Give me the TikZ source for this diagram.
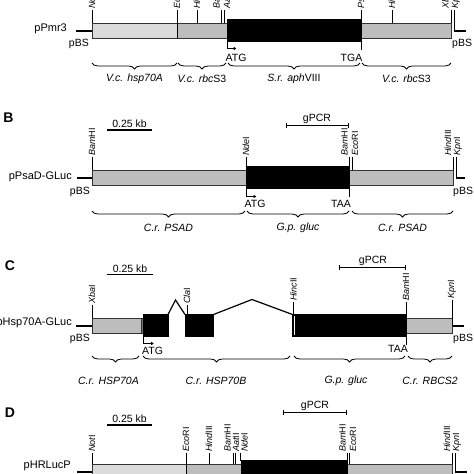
\documentclass[tikz,border=0pt]{standalone}
\usepackage{fontspec}
\setmainfont{Liberation Sans}
\usetikzlibrary{decorations.pathreplacing,arrows.meta}

\definecolor{lightbox}{gray}{0.86}
\definecolor{midbox}{gray}{0.74}
\definecolor{utrbox}{gray}{0.45}

\tikzset{
  site/.style={rotate=90, anchor=west, inner sep=0.4pt, font=\fontsize{9}{9}\selectfont},
  cut/.style={line width=0.8pt},
  gbox/.style={draw=black!80, line width=0.8pt},
  exon/.style={fill=black, draw=black, line width=0.8pt},
  backbone/.style={line width=2pt},
  intron/.style={line width=1.2pt, line join=miter},
  region/.style={inner sep=0pt, font=\fontsize{10.5}{10.5}\selectfont},
  plasmid/.style={anchor=east, inner sep=0pt, font=\fontsize{11}{11}\selectfont},
  seqtext/.style={inner sep=0pt, font=\fontsize{10.5}{10.5}\selectfont},
  panel/.style={inner sep=0pt, font=\fontsize{14}{14}\selectfont\bfseries},
  bracket/.style={decorate, decoration={brace, mirror, amplitude=6pt}, line width=0.8pt},
  scalebar/.style={line width=1.8pt},
  pcr/.style={{Bar[width=5pt]}-{Bar[width=5pt]}, line width=0.8pt},
  atg/.style={-{To[length=2.5pt,width=3pt]}, line width=0.8pt},
}

% restriction site: name, x, tick top, tick bottom, label x, text
\newcommand{\rsite}[6]{%
  \coordinate (#1t) at (#2,#3);
  \coordinate (#1b) at (#2,#4);
  \draw[cut] (#1t) -- (#1b);
  \node[site] (#1) at (#5,#3-0.5) {#6};
}

\begin{document}
\begin{tikzpicture}[x=1pt,y=-1pt]
\useasboundingbox (0,0) rectangle (474,474);
\clip (0,0) rectangle (474,474);

% ---- A: pPmr3
\node[plasmid] (A) at (67,29) {pPmr3};
\node[seqtext, anchor=east] (A_bsl) at (89,43.5) {pBS};
\node[seqtext, anchor=west] (A_bsr) at (452,44) {pBS};
\coordinate (A_l) at (76,30.5); \coordinate (A_l1) at (92,30.5);
\coordinate (A_r) at (466,30.5); \coordinate (A_r1) at (454,30.5);
\draw[backbone] (A_l) -- (A_l1);
\draw[backbone] (A_r1) -- (A_r);
\filldraw[gbox, fill=lightbox] (92,23) rectangle (177,38);
\filldraw[gbox, fill=midbox] (177,23) rectangle (227,38);
\filldraw[gbox, fill=midbox] (361,23) rectangle (451,38);
\filldraw[exon] (227,19.5) rectangle (361,41.5);
\rsite{A_N}{92}{10}{23}{92}{\textit{Not}I}
\rsite{A_E}{177}{10}{38}{177}{\textit{Eco}RI}
\rsite{A_H}{197}{10}{23}{197}{\textit{Hind}III}
\rsite{A_B}{221}{10}{23}{216.5}{\textit{Bam}HI}
\rsite{A_A}{224}{10}{23}{227}{\textit{Aat}II}
\rsite{A_P}{361}{10}{19.5}{361}{\textit{Pst}I}
\rsite{A_H2}{392}{10}{23}{392}{\textit{Hind}III}
\rsite{A_X}{451}{10}{23}{445.5}{\textit{Xba}I}
\rsite{A_K}{454}{10}{30.5}{456}{\textit{Kpn}I}
\coordinate (A_atg) at (227,41.5);
\draw[atg] (A_atg) -- ++(0,7) -- ++(9,0);
\node[seqtext, anchor=west] (A_start) at (225.5,57.5) {ATG};
\coordinate (A_tga) at (361,41.5);
\draw[cut] (A_tga) -- ++(0,8);
\node[seqtext, anchor=east] (A_stop) at (362.5,57.5) {TGA};
\draw[bracket] (92,63) -- (177,63);
\draw[bracket] (178,63) -- (226,63);
\draw[bracket] (228,63) -- (360,63);
\draw[bracket] (362,63) -- (451,63);
\node[region] (A_r1) at (134.5,79) {\textit{V.c. hsp70A}};
\node[region] (A_r2) at (202,79) {\textit{V.c. rbc}S3};
\node[region] (A_r3) at (294,79) {\textit{S.r. aph}VIII};
\node[region] (A_r4) at (406.5,79) {\textit{V.c. rbc}S3};

% ---- B: pPsaD-GLuc
\node[panel] (B) at (8.5,118) {B};
\coordinate (B_s0) at (107,130); \coordinate (B_s1) at (152,130);
\draw[scalebar] (B_s0) -- (B_s1);
\node[seqtext] (B_kb) at (129.5,124) {0.25 kb};
\coordinate (B_p0) at (286,125); \coordinate (B_p1) at (349,125);
\draw[pcr] (B_p0) -- (B_p1);
\node[seqtext] (B_pcr) at (317,118.5) {gPCR};
\node[plasmid] (Bn) at (72,176.5) {pPsaD-GLuc};
\node[seqtext, anchor=east] (B_bsl) at (90,191.5) {pBS};
\node[seqtext, anchor=west] (B_bsr) at (453,191.5) {pBS};
\coordinate (B_l) at (77,177.5); \coordinate (B_l1) at (92,177.5);
\coordinate (B_r) at (465,177.5); \coordinate (B_r1) at (456,177.5);
\draw[backbone] (B_l) -- (B_l1);
\draw[backbone] (B_r1) -- (B_r);
\filldraw[gbox, fill=midbox] (92,170) rectangle (246,185);
\filldraw[gbox, fill=midbox] (349,170) rectangle (453,185);
\filldraw[exon] (246,166.5) rectangle (349,188.5);
\rsite{B_B}{92}{157}{170}{92}{\textit{Bam}HI}
\rsite{B_N}{246}{157}{166.5}{246}{\textit{Nde}I}
\rsite{B_B2}{349}{157}{166.5}{344.5}{\textit{Bam}HI}
\rsite{B_E}{352}{157}{170}{355}{\textit{Eco}RI}
\rsite{B_H}{453}{157}{170}{448}{\textit{Hind}III}
\rsite{B_K}{456}{157}{177.5}{458}{\textit{Kpn}I}
\coordinate (B_atg) at (246,188.5);
\draw[atg] (B_atg) -- ++(0,8) -- ++(10,0);
\node[seqtext, anchor=west] (B_start) at (244.5,204) {ATG};
\coordinate (B_taa) at (349,188.5);
\draw[cut] (B_taa) -- ++(0,8);
\node[seqtext, anchor=east] (B_stop) at (351,204) {TAA};
\draw[bracket] (92,211) -- (245,211);
\draw[bracket] (247,211) -- (349,211);
\draw[bracket] (352,211) -- (453,211);
\node[region] (B_r1) at (168.5,227.5) {\textit{C.r. PSAD}};
\node[region] (B_r2) at (298,227.5) {\textit{G.p. gluc}};
\node[region] (B_r3) at (402.5,227.5) {\textit{C.r. PSAD}};

% ---- C: pHsp70A-GLuc
\node[panel] (C) at (10,266) {C};
\coordinate (C_s0) at (107,274.5); \coordinate (C_s1) at (153,274.5);
\draw[scalebar] (C_s0) -- (C_s1);
\node[seqtext] (C_kb) at (130,268.5) {0.25 kb};
\coordinate (C_p0) at (339,267); \coordinate (C_p1) at (406,267);
\draw[pcr] (C_p0) -- (C_p1);
\node[seqtext] (C_pcr) at (373,260.5) {gPCR};
\node[plasmid] (Cn) at (72,322.5) {pHsp70A-GLuc};
\node[seqtext, anchor=east] (C_bsl) at (90,338.5) {pBS};
\node[seqtext, anchor=west] (C_bsr) at (453,338.5) {pBS};
\coordinate (C_l) at (76,325.5); \coordinate (C_l1) at (92,325.5);
\coordinate (C_r) at (464,325.5); \coordinate (C_r1) at (452,325.5);
\draw[backbone] (C_l) -- (C_l1);
\draw[backbone] (C_r1) -- (C_r);
\filldraw[gbox, fill=midbox] (92,318) rectangle (141,333);
\filldraw[gbox, fill=utrbox] (141,318) rectangle (143.5,333);
\filldraw[gbox, fill=midbox] (406,318) rectangle (452,333);
\filldraw[exon] (143.5,314.5) rectangle (168,336.5);
\filldraw[exon] (185,314.5) rectangle (213.5,336.5);
\filldraw[exon] (292.5,314.5) rectangle (406,336.5);
\draw[white, line width=0.9pt] (294.5,316) -- (294.5,335);
\draw[intron] (168,314.5) -- (175.5,300) -- (185,314.5);
\draw[intron] (213.5,314.5) -- (252,299.5) -- (292.5,314.5);
\rsite{C_X}{92}{305}{318}{92}{\textit{Xba}I}
\rsite{C_C}{187}{305}{314.5}{187}{\textit{Cla}I}
\rsite{C_H}{293.5}{302}{314.5}{293.5}{\textit{Hinc}II}
\rsite{C_B}{406}{302}{314.5}{406}{\textit{Bam}HI}
\rsite{C_K}{452}{300}{325.5}{452}{\textit{Kpn}I}
\coordinate (C_atg) at (143.5,336.5);
\draw[atg] (C_atg) -- ++(0,7) -- ++(10,0);
\node[seqtext, anchor=west] (C_start) at (142,351) {ATG};
\coordinate (C_taa) at (406,336.5);
\draw[cut] (C_taa) -- ++(0,8);
\node[seqtext, anchor=east] (C_stop) at (408,349) {TAA};
\draw[bracket] (92,356) -- (139,356);
\draw[bracket] (143,356) -- (290,356);
\draw[bracket] (294,356) -- (405,356);
\draw[bracket] (408,356) -- (452,356);
\node[region] (C_r1) at (108.5,381) {\textit{C.r. HSP70A}};
\node[region] (C_r2) at (216,381) {\textit{C.r. HSP70B}};
\node[region] (C_r3) at (346,381) {\textit{G.p. gluc}};
\node[region] (C_r4) at (430,381) {\textit{C.r. RBCS2}};

% ---- D: pHRLucP
\node[panel] (D) at (10,413) {D};
\coordinate (D_s0) at (107,425); \coordinate (D_s1) at (152,425);
\draw[scalebar] (D_s0) -- (D_s1);
\node[seqtext] (D_kb) at (129.5,419) {0.25 kb};
\coordinate (D_p0) at (283,412); \coordinate (D_p1) at (347,412);
\draw[pcr] (D_p0) -- (D_p1);
\node[seqtext] (D_pcr) at (315,405.5) {gPCR};
\node[plasmid] (Dn) at (71,466) {pHRLucP};
\coordinate (D_l) at (77,471.5); \coordinate (D_l1) at (92,471.5);
\coordinate (D_r) at (467,471.5); \coordinate (D_r1) at (455,471.5);
\draw[backbone] (D_l) -- (D_l1);
\draw[backbone] (D_r1) -- (D_r);
\filldraw[gbox, fill=lightbox] (92,464) rectangle (186,479);
\filldraw[gbox, fill=midbox] (186,464) rectangle (241,479);
\filldraw[gbox, fill=midbox] (347,464) rectangle (452,479);
\filldraw[exon] (241,460.5) rectangle (347,482.5);
\rsite{D_N}{92}{453}{464}{92}{\textit{Not}I}
\rsite{D_E}{186}{453}{479}{186}{\textit{Eco}RI}
\rsite{D_H}{209}{453}{464}{209}{\textit{Hind}III}
\rsite{D_B}{233}{453}{464}{227.5}{\textit{Bam}HI}
\rsite{D_A}{235.5}{453}{464}{236}{\textit{Aat}II}
\rsite{D_Nd}{240.5}{453}{460.5}{244.5}{\textit{Nde}I}
\rsite{D_B2}{347}{453}{460.5}{342.5}{\textit{Bam}HI}
\rsite{D_E2}{349.5}{453}{464}{353}{\textit{Eco}RI}
\rsite{D_H2}{452}{453}{464}{447}{\textit{Hind}III}
\rsite{D_K}{455}{453}{471.5}{457}{\textit{Kpn}I}
\end{tikzpicture}
\end{document}
